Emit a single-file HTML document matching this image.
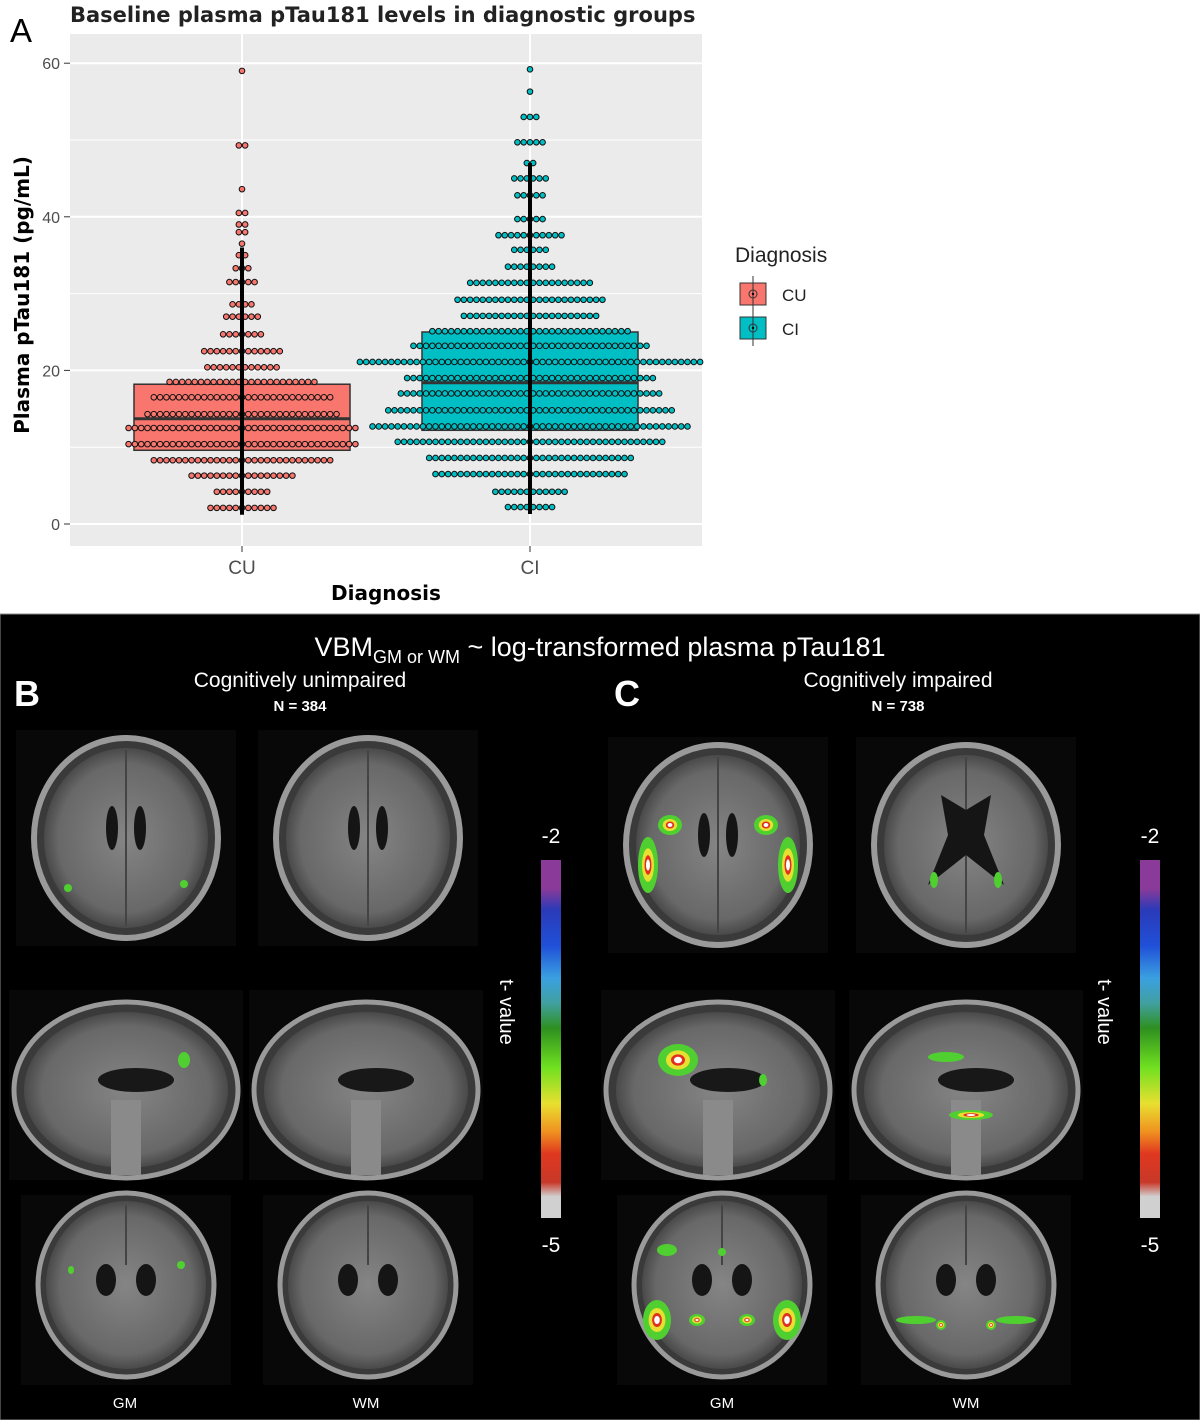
<!DOCTYPE html>
<html><head><meta charset="utf-8"><style>
body{margin:0;width:1200px;height:1420px;background:#fff;overflow:hidden;font-family:"Liberation Sans",sans-serif}
svg{position:absolute;left:0;top:0}
</style></head><body>
<svg id="fig" width="1200" height="1420" viewBox="0 0 1200 1420">
<defs>
<radialGradient id="brainG" cx="50%" cy="50%" r="55%"><stop offset="0" stop-color="#858585"/><stop offset="0.75" stop-color="#686868"/><stop offset="1" stop-color="#383838"/></radialGradient>
<linearGradient id="cbar" x1="0" y1="0" x2="0" y2="1">
<stop offset="0" stop-color="#8a3a98"/><stop offset="0.08" stop-color="#8a3a98"/><stop offset="0.14" stop-color="#2a3ab8"/><stop offset="0.24" stop-color="#2050d8"/><stop offset="0.33" stop-color="#3aa0e0"/><stop offset="0.4" stop-color="#40a0a0"/><stop offset="0.47" stop-color="#2e9020"/><stop offset="0.58" stop-color="#70e020"/><stop offset="0.68" stop-color="#e8e030"/><stop offset="0.76" stop-color="#f09020"/><stop offset="0.82" stop-color="#e03820"/><stop offset="0.9" stop-color="#c83828"/><stop offset="0.94" stop-color="#d0d0d0"/><stop offset="1" stop-color="#d0d0d0"/></linearGradient>
</defs>
<!-- Panel A -->
<text x="10" y="42" font-size="33" fill="#000">A</text>
<text x="70" y="22" font-size="21" font-weight="bold" fill="#222" font-family="DejaVu Sans, sans-serif">Baseline plasma pTau181 levels in diagnostic groups</text>
<rect x="70" y="34" width="632" height="512" fill="#ebebeb"/>
<g id="grid"></g>
<g id="boxes"></g>
<g id="dots"></g>
<g id="yticks"></g>
<g id="xticks"></g>
<text transform="translate(29,295) rotate(-90)" text-anchor="middle" font-size="20" font-weight="bold" fill="#000" font-family="DejaVu Sans, sans-serif">Plasma pTau181 (pg/mL)</text>
<text x="386" y="600" text-anchor="middle" font-size="20" font-weight="bold" fill="#000" font-family="DejaVu Sans, sans-serif">Diagnosis</text>
<g>
<text x="735" y="262" font-size="21" fill="#222">Diagnosis</text>
<g><rect x="740" y="283" width="26" height="22" fill="#F8766D" stroke="#333" stroke-width="1"/><line x1="753" y1="276" x2="753" y2="312" stroke="#333"/><circle cx="753" cy="294" r="4" fill="none" stroke="#333"/><circle cx="753" cy="294" r="1.2" fill="#000"/><text x="782" y="301" font-size="17" fill="#222">CU</text></g>
<g><rect x="740" y="317" width="26" height="22" fill="#00BFC4" stroke="#333" stroke-width="1"/><line x1="753" y1="310" x2="753" y2="346" stroke="#333"/><circle cx="753" cy="328" r="4" fill="none" stroke="#333"/><circle cx="753" cy="328" r="1.2" fill="#000"/><text x="782" y="335" font-size="17" fill="#222">CI</text></g>
</g>
<!-- Panel B/C -->
<rect x="0" y="614" width="1200" height="806" fill="#000" stroke="#888" stroke-width="1"/>
<text x="600" y="656" text-anchor="middle" font-size="27" fill="#fff">VBM<tspan font-size="18" dy="7">GM or WM</tspan><tspan dy="-7"> ~ log-transformed plasma pTau181</tspan></text>
<text x="14" y="706" font-size="36" font-weight="bold" fill="#fff">B</text>
<text x="300" y="687" text-anchor="middle" font-size="21" fill="#fff">Cognitively unimpaired</text>
<text x="300" y="711" text-anchor="middle" font-size="15" font-weight="bold" fill="#fff">N = 384</text>
<text x="614" y="706" font-size="36" font-weight="bold" fill="#fff">C</text>
<text x="898" y="687" text-anchor="middle" font-size="21" fill="#fff">Cognitively impaired</text>
<text x="898" y="711" text-anchor="middle" font-size="15" font-weight="bold" fill="#fff">N = 738</text>
<g id="brains"></g>
<g><rect x="541" y="860" width="20" height="358" fill="url(#cbar)"/><text x="551" y="843" text-anchor="middle" font-size="21" fill="#fff">-2</text><text x="551" y="1252" text-anchor="middle" font-size="21" fill="#fff">-5</text><text transform="translate(500,1012) rotate(90)" text-anchor="middle" font-size="20" fill="#fff">t- value</text></g>
<g><rect x="1140" y="860" width="20" height="358" fill="url(#cbar)"/><text x="1150" y="843" text-anchor="middle" font-size="21" fill="#fff">-2</text><text x="1150" y="1252" text-anchor="middle" font-size="21" fill="#fff">-5</text><text transform="translate(1098,1012) rotate(90)" text-anchor="middle" font-size="20" fill="#fff">t- value</text></g>
<text x="125" y="1408" text-anchor="middle" font-size="15" fill="#fff">GM</text>
<text x="366" y="1408" text-anchor="middle" font-size="15" fill="#fff">WM</text>
<text x="722" y="1408" text-anchor="middle" font-size="15" fill="#fff">GM</text>
<text x="966" y="1408" text-anchor="middle" font-size="15" fill="#fff">WM</text>
</svg>
<script>
const groups = ["CU","CI"];
const cuRowValues = [2.1,4.2,6.3,8.3,10.4,12.5,14.3,16.5,18.5,20.4,22.5,24.7,27,28.6,31.5,33.3,35,36.5,38,39,40.5,43.6,49.3,59];
const cuRowCounts = [11,9,17,29,37,37,31,29,24,12,13,7,6,4,5,3,2,1,2,2,2,1,2,1];
const ciRowValues = [2.2,4.2,6.5,8.6,10.7,12.7,14.8,17,19,21.1,23.2,25.1,27.1,29.2,31.4,33.5,35.7,37.6,39.7,42.8,45,47,49.7,53,56.3,59.2];
const ciRowCounts = [8,12,31,33,43,51,46,42,40,55,38,32,22,24,20,8,6,11,5,5,6,2,5,3,1,1];
const boxQ1 = [9.6,12.2];
const boxMedian = [13.7,18.4];
const boxQ3 = [18.2,25];
const whiskerMin = [1.2,1.3];
const whiskerMax = [36,47];
const yTicks = [0,20,40,60];
const yMinor = [10,30,50];
const groupColors = ["#F8766D","#00BFC4"];

const NS="http://www.w3.org/2000/svg";
function mk(tag,attrs,parent){const e=document.createElementNS(NS,tag);for(const k in attrs)e.setAttribute(k,attrs[k]);parent.appendChild(e);return e;}
const yScale=v=>524-v*7.68;
const xScale=i=>[242,530][i];
const pitch=6.3, boxHalf=108;
const grid=document.getElementById('grid');
yMinor.forEach(v=>{const l=mk('line',{x1:70,x2:702,y1:yScale(v),y2:yScale(v),stroke:'#fff','stroke-width':1},grid);

});
yTicks.forEach(v=>{const l=mk('line',{x1:70,x2:702,y1:yScale(v),y2:yScale(v),stroke:'#fff','stroke-width':2},grid);

});
groups.forEach((g,i)=>{const l=mk('line',{x1:xScale(i),x2:xScale(i),y1:34,y2:546,stroke:'#fff','stroke-width':2},grid);

});
const yt=document.getElementById('yticks');
yTicks.forEach(v=>{const t=mk('text',{x:60,y:yScale(v)+6,'text-anchor':'end','font-size':16,fill:'#4d4d4d'},yt);t.textContent=v;


mk('line',{x1:64,x2:70,y1:yScale(v),y2:yScale(v),stroke:'#333'},yt);});
const xt=document.getElementById('xticks');
groups.forEach((g,i)=>{const t=mk('text',{x:xScale(i),y:574,'text-anchor':'middle','font-size':19,fill:'#4d4d4d'},xt);t.textContent=g;


mk('line',{x1:xScale(i),x2:xScale(i),y1:546,y2:552,stroke:'#333'},xt);});
const boxes=document.getElementById('boxes');
groups.forEach((g,i)=>{const cx=xScale(i);
const b=mk('rect',{x:cx-boxHalf,y:yScale(boxQ3[i]),width:boxHalf*2,height:yScale(boxQ1[i])-yScale(boxQ3[i]),fill:groupColors[i],stroke:'#333','stroke-width':1.5},boxes);


const m=mk('line',{x1:cx-boxHalf,x2:cx+boxHalf,y1:yScale(boxMedian[i]),y2:yScale(boxMedian[i]),stroke:'#333','stroke-width':3},boxes);

});
const dots=document.getElementById('dots');
[[cuRowValues,cuRowCounts],[ciRowValues,ciRowCounts]].forEach(([vals,cnts],gi)=>{const cx=xScale(gi);
vals.forEach((v,r)=>{const n=cnts[r];for(let k=0;k<n;k++){const c=mk('circle',{cx:cx+(k-(n-1)/2)*pitch,cy:yScale(v),r:2.8,fill:groupColors[gi],stroke:'#111','stroke-width':1},dots);

}});
const w=mk('line',{x1:cx,x2:cx,y1:yScale(whiskerMin[gi]),y2:yScale(whiskerMax[gi]),stroke:'#000','stroke-width':4},dots);

});

// brains
const br=document.getElementById('brains');
function brain(type,cx,cy,name,blobs,bigVent){const g=mk('g',{},br);


if(type==='axial'){mk('rect',{x:cx-110,y:cy-108,width:220,height:216,fill:'#080808'},g);
mk('ellipse',{cx,cy,rx:92,ry:100,fill:'#3a3a3a',stroke:'#9a9a9a','stroke-width':6},g);
mk('ellipse',{cx,cy,rx:82,ry:90,fill:'url(#brainG)'},g);
mk('line',{x1:cx,y1:cy-88,x2:cx,y2:cy+88,stroke:'#444','stroke-width':2},g);
if(bigVent){mk('path',{d:`M${cx-25},${cy-50} L${cx},${cy-35} L${cx+25},${cy-50} L${cx+18},${cy-10} L${cx+38},${cy+40} L${cx},${cy+10} L${cx-38},${cy+40} L${cx-18},${cy-10} Z`,fill:'#151515'},g);}
else{mk('ellipse',{cx:cx-14,cy:cy-10,rx:6,ry:22,fill:'#151515'},g);mk('ellipse',{cx:cx+14,cy:cy-10,rx:6,ry:22,fill:'#151515'},g);}}
else if(type==='sag'){mk('rect',{x:cx-117,y:cy-95,width:234,height:190,fill:'#080808'},g);
mk('ellipse',{cx,cy:cy+5,rx:112,ry:88,fill:'#3a3a3a',stroke:'#9a9a9a','stroke-width':5},g);
mk('ellipse',{cx,cy:cy+5,rx:102,ry:78,fill:'url(#brainG)'},g);
mk('ellipse',{cx:cx+10,cy:cy-5,rx:38,ry:12,fill:'#181818'},g);
mk('rect',{x:cx-15,y:cy+15,width:30,height:75,fill:'#8a8a8a'},g);}
else{mk('rect',{x:cx-105,y:cy-95,width:210,height:190,fill:'#080808'},g);
mk('ellipse',{cx,cy:cy-5,rx:88,ry:92,fill:'#3a3a3a',stroke:'#9a9a9a','stroke-width':5},g);
mk('ellipse',{cx,cy:cy-5,rx:80,ry:84,fill:'url(#brainG)'},g);
mk('ellipse',{cx:cx-20,cy:cy-10,rx:10,ry:16,fill:'#151515'},g);mk('ellipse',{cx:cx+20,cy:cy-10,rx:10,ry:16,fill:'#151515'},g);
mk('line',{x1:cx,y1:cy-85,x2:cx,y2:cy-25,stroke:'#444','stroke-width':2},g);}
(blobs||[]).forEach(b=>{mk('ellipse',{cx:cx+b[0],cy:cy+b[1],rx:b[2],ry:b[3],fill:'#50d030'},g);
if(b[4]){mk('ellipse',{cx:cx+b[0],cy:cy+b[1],rx:b[2]*0.6,ry:b[3]*0.6,fill:'#e8e030'},g);mk('ellipse',{cx:cx+b[0],cy:cy+b[1],rx:b[2]*0.35,ry:b[3]*0.35,fill:'#e03020'},g);mk('ellipse',{cx:cx+b[0],cy:cy+b[1],rx:b[2]*0.2,ry:b[3]*0.2,fill:'#fff'},g);}});}
brain('axial',126,838,'brain-b-axial-gm',[[-58,50,4,4],[58,46,4,4]]);
brain('axial',368,838,'brain-b-axial-wm');
brain('sag',126,1085,'brain-b-sagittal-gm',[[58,-25,6,8]]);
brain('sag',366,1085,'brain-b-sagittal-wm');
brain('coronal',126,1290,'brain-b-coronal-gm',[[-55,-20,3,4],[55,-25,4,4]]);
brain('coronal',368,1290,'brain-b-coronal-wm');
brain('axial',718,845,'brain-c-axial-gm',[[-48,-20,12,10,1],[48,-20,12,10,1],[-70,20,10,28,1],[70,20,10,28,1]]);
brain('axial',966,845,'brain-c-axial-wm',[[-32,35,4,8],[32,35,4,8]],true);
brain('sag',718,1085,'brain-c-sagittal-gm',[[-40,-25,20,16,1],[45,-5,4,6]]);
brain('sag',966,1085,'brain-c-sagittal-wm',[[-20,-28,18,5],[5,30,22,5,1]]);
brain('coronal',722,1290,'brain-c-coronal-gm',[[-65,30,14,20,1],[65,30,14,20,1],[-25,30,8,6,1],[25,30,8,6,1],[0,-38,4,4],[-55,-40,10,6]]);
brain('coronal',966,1290,'brain-c-coronal-wm',[[-50,30,20,4],[50,30,20,4],[-25,35,5,5,1],[25,35,5,5,1]]);
</script>
</body></html>
